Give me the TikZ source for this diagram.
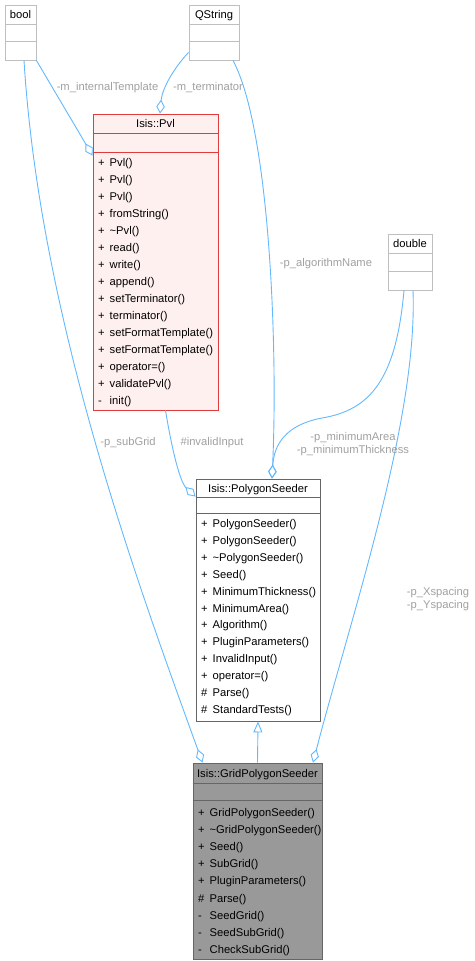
\documentclass[tikz,border=0pt]{standalone}
\usepackage{fontspec}
\setmainfont{Liberation Sans}
\usetikzlibrary{arrows.meta}
\definecolor{edgeblue}{HTML}{63B8FF}
\definecolor{lblgray}{HTML}{A0A0A0}
\definecolor{lightborder}{HTML}{BFBFBF}
\definecolor{darkborder}{HTML}{666666}
\definecolor{pvlborder}{HTML}{E03C3C}
\definecolor{pvlfill}{HTML}{FFF0F0}
\definecolor{gridfill}{HTML}{999999}
\begin{document}
\begin{tikzpicture}[x=1pt,y=-1pt,
  font=\fontsize{11.2}{13}\selectfont,
  clsbox/.style={rectangle, inner sep=0pt, line width=0.8pt},
  ttl/.style={anchor=base, inner sep=0pt},
  mem/.style={anchor=base west, inner sep=0pt},
  lbl/.style={text=lblgray, inner sep=0pt, align=center},
  conn/.style={draw=edgeblue, line width=0.9pt},
  agg/.style={conn, -{Diamond[open, length=14pt, width=8.5pt]}},
  inh/.style={conn, -{Triangle[open, length=11pt, width=9pt]}}
]
\useasboundingbox (0,0) rectangle (474,961);

% --- boxes ---
\node[clsbox, draw=lightborder, minimum width=31pt, minimum height=55pt] (bool) at (20.5,32.5) {};
\draw[lightborder, line width=0.8pt] (bool.west |- 0,24) -- (bool.east |- 0,24);
\draw[lightborder, line width=0.8pt] (bool.west |- 0,41) -- (bool.east |- 0,41);
\node[ttl] (boolT) at (20.5,18.5) {bool};

\node[clsbox, draw=lightborder, minimum width=50pt, minimum height=55pt] (qstr) at (214,32.5) {};
\draw[lightborder, line width=0.8pt] (qstr.west |- 0,24) -- (qstr.east |- 0,24);
\draw[lightborder, line width=0.8pt] (qstr.west |- 0,41) -- (qstr.east |- 0,41);
\node[ttl] (qstrT) at (214,18.5) {QString};

\node[clsbox, draw=lightborder, minimum width=44pt, minimum height=56pt] (dbl) at (410,262) {};
\draw[lightborder, line width=0.8pt] (dbl.west |- 0,253) -- (dbl.east |- 0,253);
\draw[lightborder, line width=0.8pt] (dbl.west |- 0,271) -- (dbl.east |- 0,271);
\node[ttl] (dblT) at (410,247.5) {double};

\node[clsbox, draw=pvlborder, fill=pvlfill, minimum width=125pt, minimum height=296pt] (pvl) at (155.5,262) {};
\draw[pvlborder, line width=0.8pt] (pvl.west |- 0,133) -- (pvl.east |- 0,133);
\draw[pvlborder, line width=0.8pt] (pvl.west |- 0,152) -- (pvl.east |- 0,152);
\node[ttl] (pvlT) at (155.5,127.5) {Isis::Pvl};
\foreach \s/\t [count=\i from 0] in {+/Pvl(), +/Pvl(), +/Pvl(), +/fromString(), +/\textasciitilde Pvl(), +/read(), +/write(), +/append(), +/setTerminator(), +/terminator(), +/setFormatTemplate(), +/setFormatTemplate(), +/operator=(), +/validatePvl(), -/init()}
  \node[mem] (pvlm\i) at (98,{166.5+17*\i}) {\makebox[11.5pt][l]{\s}\t};

\node[clsbox, draw=darkborder, fill=white, minimum width=124pt, minimum height=242pt] (ps) at (258,600) {};
\draw[darkborder, line width=0.8pt] (ps.west |- 0,497) -- (ps.east |- 0,497);
\draw[darkborder, line width=0.8pt] (ps.west |- 0,513) -- (ps.east |- 0,513);
\node[ttl] (psT) at (258,492) {Isis::PolygonSeeder};
\foreach \s/\t [count=\i from 0] in {+/PolygonSeeder(), +/PolygonSeeder(), +/\textasciitilde PolygonSeeder(), +/Seed(), +/MinimumThickness(), +/MinimumArea(), +/Algorithm(), +/PluginParameters(), +/InvalidInput(), +/operator=(), \#/Parse(), \#/StandardTests()}
  \node[mem] (psm\i) at (201,{527.5+16.9*\i}) {\makebox[11.5pt][l]{\s}\t};

\node[clsbox, draw=darkborder, fill=gridfill, minimum width=129pt, minimum height=196pt] (grid) at (257.5,861) {};
\draw[darkborder, line width=0.8pt] (grid.west |- 0,783) -- (grid.east |- 0,783);
\draw[darkborder, line width=0.8pt] (grid.west |- 0,800) -- (grid.east |- 0,800);
\node[ttl] (gridT) at (257.5,777) {Isis::GridPolygonSeeder};
\foreach \s/\t [count=\i from 0] in {+/GridPolygonSeeder(), +/\textasciitilde GridPolygonSeeder(), +/Seed(), +/SubGrid(), +/PluginParameters(), \#/Parse(), -/SeedGrid(), -/SeedSubGrid(), -/CheckSubGrid()}
  \node[mem] (gridm\i) at (198,{816.5+17.1*\i}) {\makebox[11.5pt][l]{\s}\t};

% --- connectors ---
\draw[agg] (bool.south east) -- ([yshift=-42pt]pvl.north west);
\draw[agg] ([xshift=3.5pt]bool.south) .. controls (40,320) and (140,590) .. ([xshift=-55pt]grid.north);
\draw[agg] ([yshift=8pt]qstr.south west) .. controls (172,70) and (162,90) .. ([xshift=4.5pt]pvl.north);
\draw[agg] ([xshift=19pt]qstr.south) .. controls (270,130) and (278,350) .. ([xshift=14pt]ps.north);
\draw[agg] ([xshift=-6pt]dbl.south) .. controls (396,380) and (370,410) .. (322,418) .. controls (285,425) and (274,445) .. ([xshift=14pt]ps.north);
\draw[agg] ([xshift=10pt]pvl.south) .. controls (172,450) and (180,482) .. ([yshift=-18pt]ps.north west);
\draw[agg] ([xshift=3pt]dbl.south) .. controls (418,420) and (350,620) .. ([xshift=55.5pt]grid.north);
\draw[inh] (grid.north) -- (ps.south);

% --- labels ---
\node[lbl] (l1) at (107.5,88) {-m\_internalTemplate};
\node[lbl] (l2) at (208,88) {-m\_terminator};
\node[lbl] (l3) at (326,264) {-p\_algorithmName};
\node[lbl] (l4) at (353,444) {-p\_minimumArea\\-p\_minimumThickness};
\node[lbl] (l5) at (438,599) {-p\_Xspacing\\-p\_Yspacing};
\node[lbl] (l6) at (128,443) {-p\_subGrid};
\node[lbl] (l7) at (212,443) {\#invalidInput};
\end{tikzpicture}
\end{document}
